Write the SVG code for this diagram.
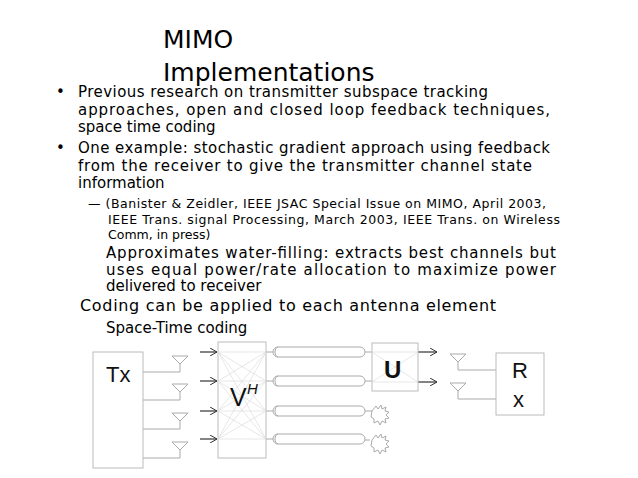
<svg xmlns="http://www.w3.org/2000/svg" width="638" height="478" viewBox="0 0 638 478">
<defs>
<style>
.t{font-family:"DejaVu Sans","Open Sans",sans-serif;fill:#000}
.b{fill:#fff;stroke:#bbb;stroke-width:1}
.g{fill:none;stroke:#aaa;stroke-width:1}
.x{stroke:#ddd;stroke-width:0.7}
.a{stroke:#333;stroke-width:1.2;fill:none}
.d{font-family:"Liberation Sans",Arial,sans-serif;fill:#111}
</style>
<marker id="ar" markerWidth="8" markerHeight="8" refX="7" refY="4" orient="auto" markerUnits="userSpaceOnUse"><path d="M0,0 L7,4 L0,8" fill="none" stroke="#333" stroke-width="1"/></marker>
<path id="ant" d="M-8,0 L8,0 L0,8 Z M0,8 V16" class="g"/>
</defs>
<rect width="638" height="478" fill="#fff"/>
<g id="title"><text class="t" x="163" y="48" font-size="25">MIMO</text><text class="t" x="163" y="81" font-size="25">Implementations</text></g>
<g id="text" class="t" font-size="15">
<text x="56" y="97">•</text>
<text x="78" y="97" textLength="410">Previous research on transmitter subspace tracking</text>
<text x="78" y="115" textLength="472">approaches,      open and closed loop feedback techniques,</text>
<text x="78" y="132">space time coding</text>
<text x="56" y="153">•</text>
<text x="78" y="153" textLength="472">One example: stochastic gradient approach using feedback</text>
<text x="78" y="171" textLength="454">from     the receiver to give the transmitter channel state</text>
<text x="78" y="188">information</text>
<g font-size="12.5"><text x="88" y="208" textLength="458">— (Banister &amp; Zeidler, IEEE JSAC Special Issue on MIMO, April 2003,</text>
<text x="108" y="224" textLength="452">IEEE Trans. signal Processing, March 2003, IEEE Trans. on Wireless</text>
<text x="108" y="239">Comm, in press)</text></g>
<text x="106" y="258" textLength="450">Approximates water-filling: extracts best channels but</text>
<text x="106" y="275" textLength="450">uses equal power/rate allocation to maximize power</text>
<text x="106" y="291">delivered to receiver</text>
<text x="80" y="311" font-size="16" textLength="416">Coding can be applied to each antenna element</text>
<text x="106" y="333">Space-Time coding</text>
</g>
<g id="connectors">
<path class="g" d="M143,372H180M143,400H180M143,429H180M143,458H180"/>
<g class="a">
<path marker-end="url(#ar)" d="M200,352H217"/><path marker-end="url(#ar)" d="M200,381H217"/>
<path marker-end="url(#ar)" d="M200,411H217"/><path marker-end="url(#ar)" d="M200,439H217"/>
<path marker-end="url(#ar)" d="M418,352H437"/><path marker-end="url(#ar)" d="M418,382H437"/>
</g>
<path class="g" d="M266,352H273M266,381H273M266,411H273M266,439H273M365,352H372M365,381H372M365,411H372M365,440H370"/>
<path class="g" d="M458,370H496M458,399H496"/>
</g>
<g id="tx"><rect class="b" x="93" y="352" width="50" height="116"/><text class="d" x="106" y="382" font-size="22">Tx</text></g>
<g id="txant"><use href="#ant" x="180" y="356"/><use href="#ant" x="180" y="384"/><use href="#ant" x="180" y="413"/><use href="#ant" x="180" y="442"/></g>
<g id="vh"><rect class="b" x="218" y="342" width="48" height="116"/>
<path class="x" d="M218,352L266,381M218,352L266,411M218,352L266,439M218,381L266,352M218,381L266,411M218,381L266,439M218,411L266,352M218,411L266,381M218,411L266,439M218,439L266,352M218,439L266,381M218,439L266,411M218,352H266M218,381H266M218,411H266M218,439H266"/>
<text class="d" x="230" y="406" font-size="25">V</text><text class="d" x="247" y="394" font-size="15" font-style="italic">H</text></g>
<g id="tubes" class="g">
<rect x="273" y="347" width="92" height="10" rx="5"/><path d="M278,347a3,5 0 0 0 0,10"/>
<rect x="273" y="376" width="92" height="10" rx="5"/><path d="M278,376a3,5 0 0 0 0,10"/>
<rect x="273" y="406" width="92" height="10" rx="5"/><path d="M278,406a3,5 0 0 0 0,10"/>
<rect x="273" y="434" width="92" height="10" rx="5"/><path d="M278,434a3,5 0 0 0 0,10"/>
</g>
<g id="u"><rect class="b" x="372" y="343" width="46" height="48"/><path class="x" d="M372,352L418,382M372,382L418,352M372,352H418M372,382H418"/><text class="d" x="384" y="378" font-size="24" font-weight="bold">U</text></g>
<g id="bursts" class="g"><path d="M372,411l4,-5l2,3l3,-4l1,4l4,-2l-1,4l4,1l-3,3l3,3l-4,1l1,4l-4,-2l-2,4l-2,-4l-4,2l0,-4l-3,-2z"/><path d="M372,440l4,-5l2,3l3,-4l1,4l4,-2l-1,4l4,1l-3,3l3,3l-4,1l1,4l-4,-2l-2,4l-2,-4l-4,2l0,-4l-3,-2z"/></g>
<g id="rxant"><use href="#ant" x="458" y="354"/><use href="#ant" x="458" y="383"/></g>
<g id="rx"><rect class="b" x="496" y="353" width="48" height="62"/><text class="d" x="512" y="378" font-size="22">R</text><text class="d" x="513" y="407" font-size="22">x</text></g>
</svg>
